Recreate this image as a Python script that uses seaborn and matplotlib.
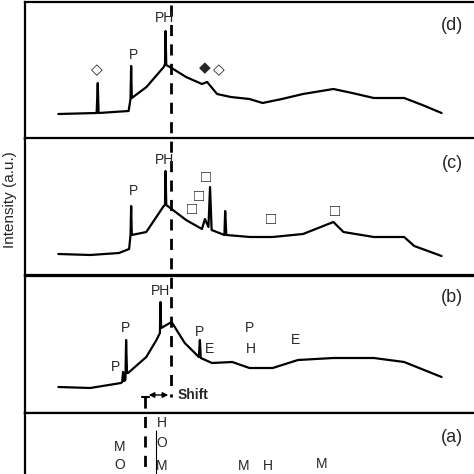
import matplotlib
matplotlib.use("Agg")
import matplotlib.pyplot as plt
import seaborn as sns
import pandas as pd

sns.set_style("white")
plt.rcParams['font.family'] = ['Liberation Sans', 'DejaVu Sans']

# 2-theta (deg) and intensity (a.u.)
d_x = [10.0, 16.0, 16.17, 16.3, 21.0, 21.3, 21.4, 21.5, 23.8, 26.5, 26.7, 26.78, 26.9, 27.73, 30.0, 32.48, 33.3, 34.85, 37.0, 39.92, 41.98, 45.0, 48.31, 53.06, 56.0, 59.39, 64.14, 67.0, 70.0]
d_y = [25, 26, 56, 26, 28, 40, 73, 41, 52, 72, 75, 108, 74, 71, 62, 55, 57, 45, 42, 40, 36, 40, 45, 50, 46, 41, 41, 34, 26]

c_x = [10.0, 15.0, 19.5, 21.08, 21.3, 21.4, 21.5, 23.77, 26.5, 26.7, 26.78, 26.9, 27.73, 30.0, 32.48, 32.95, 33.5, 33.75, 34.0, 36.0, 36.12, 36.3, 40.0, 43.56, 48.31, 53.06, 54.64, 59.39, 64.14, 65.72, 70.0]
c_y = [21, 20, 22, 26, 40, 69, 40, 43, 69, 70, 104, 70, 66, 55, 46, 56, 48, 88, 45, 40, 64, 40, 38, 38, 41, 53, 43, 38, 38, 29, 19]

b_x = [10.0, 15.0, 19.81, 20.0, 20.13, 20.3, 20.5, 20.61, 20.75, 20.92, 23.77, 25.36, 25.9, 25.99, 26.1, 27.73, 29.79, 32.0, 32.16, 32.3, 34.06, 37.23, 39.92, 43.56, 47.52, 53.06, 59.39, 64.14, 70.0]
b_y = [26, 25, 30, 31, 41, 32, 33, 73, 40, 40, 56, 73, 80, 111, 85, 91, 70, 56, 73, 55, 50, 51, 45, 45, 53, 55, 55, 51, 36]

a_stick_x = [25.36]
a_stick_top = [120]

panels = {"d": (d_x, d_y), "c": (c_x, c_y), "b": (b_x, b_y)}

W = H = 474
fig = plt.figure(figsize=(4.74, 4.74), dpi=100)

def fx(px): return px / W
def fy(py): return 1 - py / H

tops = {"d": 2, "c": 138, "b": 276, "a": 413}
axes = {}
for key in ["d", "c", "b", "a"]:
    t = tops[key]
    ax = fig.add_axes([fx(25), fy(t + 137), fx(474 + 5) - fx(25), 137 / H])
    ax.set_xlim(4.78, 75.86)
    ax.set_ylim(0, 137)
    ax.set_xticks([]); ax.set_yticks([])
    for s in ax.spines.values():
        s.set_linewidth(1.6); s.set_color("black")
    axes[key] = ax

for key, (xs, ys) in panels.items():
    df = pd.DataFrame({"x": xs, "y": ys})
    sns.lineplot(data=df, x="x", y="y", ax=axes[key], color="black", lw=1.6, sort=False)
    axes[key].set_xlabel(""); axes[key].set_ylabel("")

for xv, top in zip(a_stick_x, a_stick_top):
    axes["a"].vlines(xv, 0, top, color="black", lw=0.8)

def txt(px, py, s, **kw):
    fig.text(fx(px), fy(py), s, ha="center", va="center", fontsize=kw.pop("fs", 10), **kw)

# panel labels
for k, py in [("d", 25), ("c", 163), ("b", 297), ("a", 437)]:
    txt(452, py, f"({k})", fs=13)

# (d)
txt(165, 18, "PH"); txt(133, 55, "P")
txt(97, 70, "\u25C7", fs=11); txt(205, 68, "\u25C6", fs=11); txt(219, 70, "\u25C7", fs=11)
# (c)
txt(164, 160, "PH"); txt(134, 191, "P")
for (px, py) in [(206, 177), (199, 197), (192, 210), (271, 219), (335, 212)]:
    txt(px, py, "\u25A1", fs=12)
# (b)
txt(161, 291, "PH"); txt(126, 328, "P"); txt(116, 367, "P"); txt(200, 332, "P")
txt(210, 349, "E"); txt(250, 328, "P"); txt(251, 349, "H"); txt(296, 340, "E")
# (a)
txt(162, 423, "H"); txt(162, 443, "O"); txt(120, 447, "M"); txt(120, 465, "O")
txt(162, 466, "M"); txt(244, 466, "M"); txt(268, 466, "H"); txt(322, 464, "M")

# dashed reference lines & shift arrow
fig.add_artist(plt.Line2D([fx(171), fx(171)], [fy(5), fy(397)], color="black", lw=2, ls=(0, (4, 3))))
fig.add_artist(plt.Line2D([fx(145), fx(145)], [fy(397), fy(474)], color="black", lw=2, ls=(0, (4, 3))))
fig.add_artist(plt.Line2D([fx(142), fx(149)], [fy(397), fy(397)], color="black", lw=1.5))
fig.patches.append(matplotlib.patches.FancyArrowPatch((fx(146), fy(395)), (fx(171), fy(395)),
    arrowstyle="<|-|>", mutation_scale=8, color="black", lw=1, transform=fig.transFigure))
fig.text(fx(178), fy(395), "Shift", ha="left", va="center", fontsize=10, fontweight="bold")

fig.text(fx(10), fy(200), "Intensity (a.u.)", rotation=90, ha="center", va="center", fontsize=11)

fig.savefig("out.png", dpi=100)
